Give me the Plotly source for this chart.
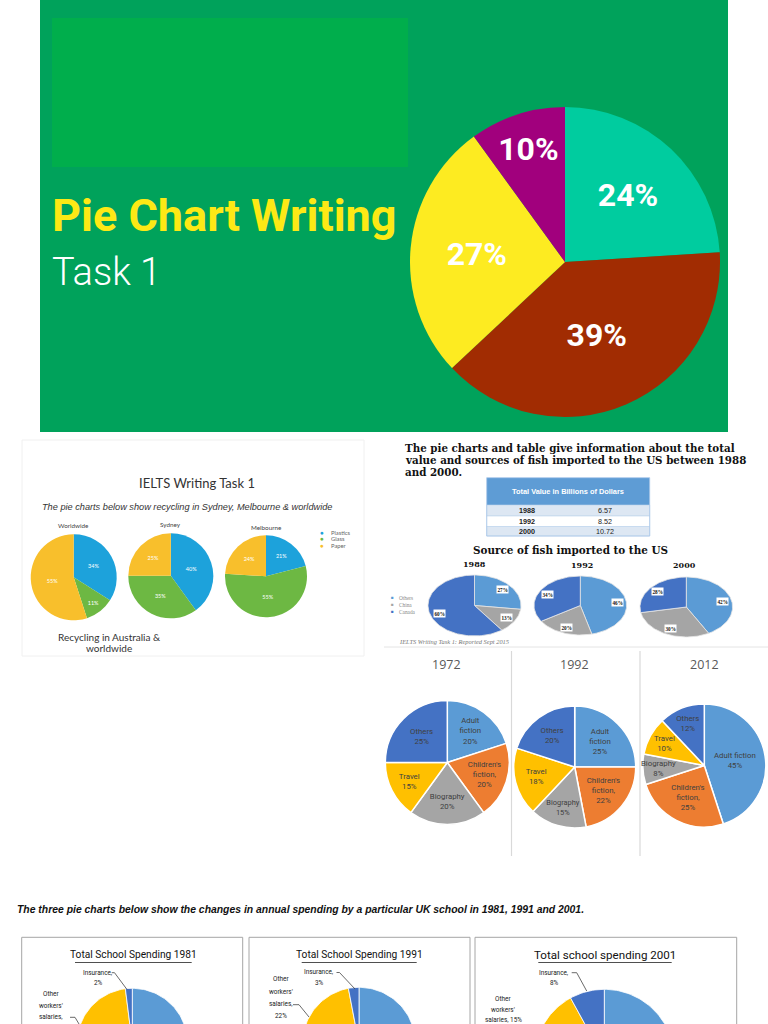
import numpy as np
import plotly.graph_objects as go

W, H = 768, 1024

# ---------------- DATA ----------------
banner_labels = ["Slice A", "Slice B", "Slice C", "Slice D"]
banner_values = [24, 39, 27, 10]

recycle_materials = ["Plastics", "Glass", "Paper"]
recycle_regions = ["Worldwide", "Sydney", "Melbourne"]
recycle_worldwide = [34, 11, 55]
recycle_sydney = [40, 35, 25]
recycle_melbourne = [21, 55, 24]

fish_years = ["1988", "1992", "2000"]
fish_total_value = ["6.57", "8.52", "10.72"]
fish_sources = ["Others", "China", "Canada"]
fish_1988 = [27, 13, 60]
fish_1992 = [46, 20, 34]
fish_2000 = [42, 30, 28]

book_years = ["1972", "1992", "2012"]
book_categories = ["Adult fiction", "Children's fiction", "Biography", "Travel", "Others"]
book_names_1972 = ["Adult<br>fiction", "Children's<br>fiction,", "Biography", "Travel", "Others"]
book_names_1992 = ["Adult<br>fiction", "Children's<br>fiction,", "Biography", "Travel", "Others"]
book_names_2012 = ["Adult fiction", "Children's<br>fiction,", "Biography", "Travel", "Others"]
book_1972 = [20, 20, 20, 15, 25]
book_1992 = [25, 22, 15, 18, 20]
book_2012 = [45, 25, 8, 10, 12]

school_years = ["1981", "1991", "2001"]
school_titles = ["Total School Spending 1981", "Total School Spending 1991", "Total school spending 2001"]
school_categories = ["Teachers' salaries", "Resources", "Furniture and equipment",
                     "Other workers' salaries", "Insurance"]
school_1981 = [40, 15, 15, 28, 2]
school_1991 = [50, 20, 5, 22, 3]
school_2001 = [45, 9, 23, 15, 8]

# ---------------- STYLE ----------------
NARROW = "Roboto, Liberation Sans, sans-serif"
SERIF = "DejaVu Serif, Liberation Serif, serif"
TIMES = "Liberation Serif, serif"
SANS = "Liberation Sans, Arial, sans-serif"
GOTHIC = "Lato, Open Sans, sans-serif"

banner_colors = ["#00CC9F", "#A12C02", "#FDEB21", "#A1007D"]
recycle_colors = ["#1DA2DB", "#6DB843", "#F8BF2C"]
fish_colors = ["#5B9BD5", "#A5A5A5", "#4472C4"]
book_colors = ["#5B9BD5", "#ED7D31", "#A5A5A5", "#FFC000", "#4472C4"]
school_colors = ["#5B9BD5", "#ED7D31", "#A5A5A5", "#FFC000", "#4472C4"]


def dom(cx, cy, r):
    return dict(x=[(cx - r) / W, (cx + r) / W], y=[1 - (cy + r) / H, 1 - (cy - r) / H])


fig = go.Figure()
shapes = []
annotations = []


def ann(x, y, text, size, color="#333", family=SANS, xanchor="center", yanchor="middle", **kw):
    annotations.append(dict(x=x, y=y, xref="x", yref="y", text=text, showarrow=False,
                            font=dict(size=size, color=color, family=family),
                            xanchor=xanchor, yanchor=yanchor, **kw))


def rect(x0, y0, x1, y1, fill=None, line=None, lw=1, layer="below"):
    shapes.append(dict(type="rect", xref="x", yref="y", x0=x0, y0=y0, x1=x1, y1=y1,
                       fillcolor=fill if fill else "rgba(0,0,0,0)",
                       line=dict(color=line if line else "rgba(0,0,0,0)", width=lw if line else 0),
                       layer=layer))


def seg(x0, y0, x1, y1, color="#D9D9D9", lw=1, layer="below"):
    shapes.append(dict(type="line", xref="x", yref="y", x0=x0, y0=y0, x1=x1, y1=y1,
                       line=dict(color=color, width=lw), layer=layer))


def mid_angles(values):
    total = float(sum(values))
    cum = np.cumsum([0] + list(values))
    return [180.0 * (cum[i] + cum[i + 1]) / total for i in range(len(values))]


def wedges(values, colors, cx, cy, rx, ry, name, line_color="white", lw=1):
    """Elliptical / clipped pie wedges drawn on the pixel-space overlay axis."""
    total = float(sum(values))
    start = 0.0
    for v, c in zip(values, colors):
        a0 = start
        a1 = start + 360.0 * v / total
        t = np.radians(np.linspace(a0, a1, max(int((a1 - a0) / 2) + 2, 3)))
        xs = np.concatenate([[cx], cx + rx * np.sin(t), [cx]])
        ys = np.concatenate([[cy], cy - ry * np.cos(t), [cy]])
        fig.add_trace(go.Scatter(x=xs, y=ys, mode="lines", fill="toself", fillcolor=c,
                                 line=dict(color=line_color, width=lw), hoverinfo="skip",
                                 showlegend=False, name=name))
        start = a1
    return mid_angles(values)


# ---------------- BANNER ----------------
rect(40, 0, 728, 432, fill="#00A25B")
rect(52, 18, 408, 167, fill="#00AE4C")
ann(50, 215, "<b>Pie Chart Writing</b>", 45, "#FDE915", "Roboto, sans-serif", xanchor="left")
annotations.append(dict(x=50, y=272, xref="x", yref="y", text="Task 1", showarrow=False,
                        font=dict(size=38, color="white", family="Roboto, sans-serif", weight=300),
                        xanchor="left", yanchor="middle"))

fig.add_trace(go.Pie(labels=banner_labels, values=banner_values, domain=dom(565, 262, 155),
                     sort=False, direction="clockwise", rotation=0,
                     marker=dict(colors=banner_colors, line=dict(width=0)),
                     texttemplate="<b>%{value}%</b>", textposition="inside",
                     insidetextorientation="horizontal",
                     textfont=dict(color="white", size=32, family="Roboto, sans-serif"),
                     hoverinfo="skip", showlegend=False))

# ---------------- RECYCLING ----------------
rect(22, 440, 364, 656, line="#F0F0F0")
ann(197, 483, "IELTS Writing Task 1", 13, "#333", GOTHIC)
ann(187, 507, "<i>The pie charts below show recycling in Sydney, Melbourne &amp; worldwide</i>",
    9.2, "#333", SANS)
rec_pos = [(73.7, 577.3, 43), (170.8, 575.8, 42.5), (266, 576.3, 41)]
rec_title_y = [525, 524.5, 527.5]
for reg, vals, (cx, cy, r), ty in zip(recycle_regions,
                                      [recycle_worldwide, recycle_sydney, recycle_melbourne],
                                      rec_pos, rec_title_y):
    ann(cx, ty, reg, 6.3, "#444", GOTHIC)
    fig.add_trace(go.Pie(labels=recycle_materials, values=vals, domain=dom(cx, cy, r),
                         sort=False, direction="clockwise", rotation=0,
                         marker=dict(colors=recycle_colors, line=dict(width=0)),
                         texttemplate="%{value}%", textposition="inside",
                         insidetextorientation="horizontal",
                         textfont=dict(color="white", size=5.5, family=GOTHIC),
                         hoverinfo="skip", showlegend=False))
for i, (m, c) in enumerate(zip(recycle_materials, recycle_colors)):
    y = 532 + i * 6.8
    ann(322.3, y, "●", 6.5, c, SANS)
    ann(328.5, y, m, 5.8, "#666", GOTHIC, xanchor="left")
ann(109, 636.7, "Recycling in Australia &amp;", 10, "#333", GOTHIC)
ann(109, 648.3, "worldwide", 10, "#333", GOTHIC)

# ---------------- FISH ----------------
fish_title = ["The pie charts and table give information about the total",
              "value and sources of fish imported to the US between 1988",
              "and 2000."]
for i, line in enumerate(fish_title):
    ann(402.5, 447.5 + 12 * i, "<b>" + line + "</b>", 10.3, "#111", SERIF, xanchor="left")

# table
tx0, tx1 = 486.7, 649.7
rect(tx0, 477.7, tx1, 505, fill="#5E9CD5")
ann((tx0 + tx1) / 2, 491, "<b>Total Value in Billions of Dollars</b>", 7.4, "white", SANS)
row_y = [(505, 516), (516, 526.5), (526.5, 536)]
row_fill = ["#DDE7F3", "#FFFFFF", "#DDE7F3"]
for (y0, y1), fc, yr, val in zip(row_y, row_fill, fish_years, fish_total_value):
    rect(tx0, y0, tx1, y1, fill=fc, line="#BCD3EC", lw=0.6)
    ann(526.5, (y0 + y1) / 2, "<b>" + yr + "</b>", 7.2, "#222", SANS)
    ann(605, (y0 + y1) / 2, val, 7.2, "#222", SANS)
rect(tx0, 477.7, tx1, 536, line="#A9C6E8", lw=0.8)

ann(570.7, 550, "<b>Source of fish imported to the US</b>", 10.4, "#111", SERIF)
fish_pos = [(474.5, 605.5, 46.5, 30.5), (580.3, 605.5, 46.3, 29.5), (686.3, 607, 46.3, 30)]
fish_year_pos = [(474.7, 564), (582.3, 565), (684.7, 565)]
for yr, vals, (cx, cy, rx, ry), (yx, yy) in zip(fish_years, [fish_1988, fish_1992, fish_2000],
                                                fish_pos, fish_year_pos):
    ann(yx, yy, "<b>" + yr + "</b>", 8, "#111", SERIF)
    mids = wedges(vals, fish_colors, cx, cy, rx, ry, "fish " + yr, line_color="#E6E6E6", lw=0.8)
    for v, a in zip(vals, mids):
        ar = np.radians(a)
        ann(cx + 0.8 * rx * np.sin(ar), cy - 0.8 * ry * np.cos(ar), "<b>%d%%</b>" % v, 5.2,
            "#111", TIMES, bgcolor="white", borderpad=0.5)
for i, (s, c) in enumerate(zip(fish_sources, fish_colors)):
    y = 597.7 + i * 7
    ann(392.3, y, "■", 4.5, c, SANS)
    ann(397, y, s, 5.3, "#888", TIMES, xanchor="left")
ann(396.5, 641.5, "<i>IELTS Writing Task 1: Reported Sept 2015</i>", 6.4, "#777", TIMES, xanchor="left")
seg(384, 647, 768, 647, color="#E4E4E4", lw=1)

# ---------------- BOOKS ----------------
seg(511.5, 651, 511.5, 856, color="#D9D9D9", lw=1.2)
seg(640, 651, 640, 856, color="#D9D9D9", lw=1.2)
book_pos = [(447.3, 762.5, 62), (574.7, 767, 61), (704.3, 765.5, 61.5)]
book_title_x = [446.3, 574.7, 704.7]
for yr, vals, names, (cx, cy, r), tx in zip(book_years, [book_1972, book_1992, book_2012],
                                            [book_names_1972, book_names_1992, book_names_2012],
                                            book_pos, book_title_x):
    ann(tx, 664.3, yr, 12.5, "#595959", "Open Sans, sans-serif")
    small = [v <= 10 for v in vals]
    fig.add_trace(go.Pie(labels=book_categories, values=vals, text=names,
                         domain=dom(cx, cy, r), sort=False, direction="clockwise", rotation=0,
                         marker=dict(colors=book_colors, line=dict(color="white", width=1.5)),
                         texttemplate="%{text}<br>%{value}%",
                         textposition=["none" if s else "inside" for s in small],
                         insidetextorientation="horizontal",
                         textfont=dict(color="#404040", size=7.8, family=NARROW),
                         hoverinfo="skip", showlegend=False))
    # labels of thin slices are drawn at the slice's mid-angle, overflowing as in the original
    for v, nm, a, s in zip(vals, names, mid_angles(vals), small):
        if s:
            ar = np.radians(a)
            ann(cx + 0.74 * r * np.sin(ar), cy - 0.74 * r * np.cos(ar),
                "%s<br>%d%%" % (nm, v), 7.8, "#404040", NARROW)

# ---------------- SCHOOL ----------------
ann(15, 909.5,
    "<b><i>The three pie charts below show the changes in annual spending by a particular UK school in 1981, 1991 and 2001.</i></b>",
    10.4, "#111", SANS, xanchor="left")
boxes = [(21.7, 242.7), (249, 470), (475, 736.7)]
for (x0, x1) in boxes:
    rect(x0, 937.3, x1, 1040, fill="white", line="#A6A6A6", lw=1)
school_pos = [(132.3, 1043.7, 55.4), (359, 1043.9, 56.6), (604.3, 1059.3, 70)]
title_pos = [(133.3, 75, 191.7, 10.2), (359.2, 301.7, 416.7, 10.2), (605, 538.3, 671.7, 11.6)]
for vals, title, (cx, cy, r), (tcx, ux0, ux1, tsz), yr in zip(
        [school_1981, school_1991, school_2001], school_titles, school_pos, title_pos, school_years):
    ann(tcx, 954.5, title, tsz, "#111", NARROW)
    seg(ux0, 962.5, ux1, 962.5, color="#222", lw=0.8, layer="above")
    wedges(vals, school_colors, cx, cy, r, r, "school " + yr, line_color="white", lw=0.8)

# labels for insurance and other workers' salaries
ins_idx = school_categories.index("Insurance")
oth_idx = school_categories.index("Other workers' salaries")
ins_label_pos = [(97, 972.7, 983.3), (318.3, 972.3, 982.7), (553.3, 972.7, 983.3)]
for vals, (x, y1, y2) in zip([school_1981, school_1991, school_2001], ins_label_pos):
    ann(x, y1, "Insurance,", 6.4, "#222", NARROW)
    ann(x + 1.5, y2, "%d%%" % vals[ins_idx], 6.4, "#222", NARROW)
o81 = school_1981[oth_idx]
o91 = school_1991[oth_idx]
o01 = school_2001[oth_idx]
for i, t in enumerate(["Other", "workers'", "salaries,", "%d%%" % o81]):
    ann(50.5, 994 + 11.7 * i, t, 6.4, "#222", NARROW)
for i, t in enumerate(["Other", "workers'", "salaries,", "%d%%" % o91]):
    ann(280.5, 979.3 + 12.3 * i, t, 6.4, "#222", NARROW)
for i, t in enumerate(["Other", "workers'", "salaries, %d%%" % o01]):
    ann(503.3, 999 + 10.5 * i, t, 6.4, "#222", NARROW)

leaders = [
    "M 111.7 972.7 L 114.5 972.7 L 127 989.5",
    "M 70 1017.3 L 75 1017.3 L 79 1024",
    "M 336.5 972.5 L 339.5 972.5 L 355 989",
    "M 293 1004.7 L 299 1004.7 L 309 1017",
    "M 571.7 972.7 L 576.7 972.7 L 586.7 991",
]
for p in leaders:
    shapes.append(dict(type="path", xref="x", yref="y", path=p,
                       line=dict(color="#444", width=0.8), layer="above"))

fig.update_layout(
    width=W, height=H, margin=dict(l=0, r=0, t=0, b=0),
    paper_bgcolor="white", plot_bgcolor="rgba(0,0,0,0)", showlegend=False,
    xaxis=dict(range=[0, W], visible=False, fixedrange=True, domain=[0, 1]),
    yaxis=dict(range=[H, 0], visible=False, fixedrange=True, domain=[0, 1]),
    shapes=shapes, annotations=annotations,
)
fig.write_html("out.html")
